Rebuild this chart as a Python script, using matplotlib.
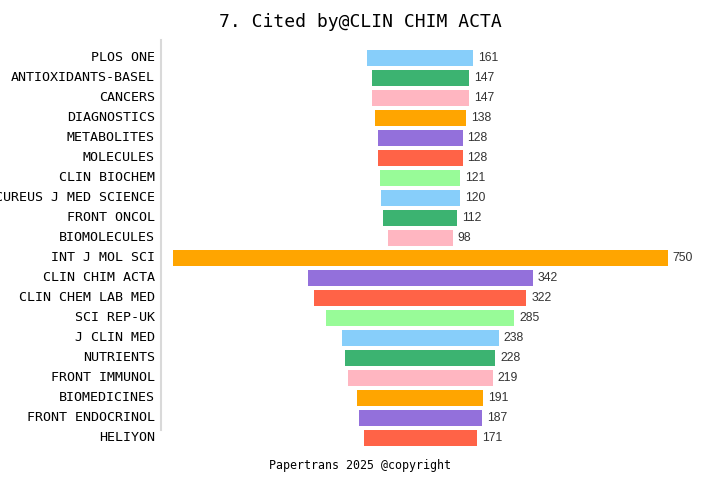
import matplotlib
matplotlib.use("Agg")
import matplotlib.pyplot as plt

journals = ["PLOS ONE", "ANTIOXIDANTS-BASEL", "CANCERS", "DIAGNOSTICS", "METABOLITES",
            "MOLECULES", "CLIN BIOCHEM", "CUREUS J MED SCIENCE", "FRONT ONCOL", "BIOMOLECULES",
            "INT J MOL SCI", "CLIN CHIM ACTA", "CLIN CHEM LAB MED", "SCI REP-UK", "J CLIN MED",
            "NUTRIENTS", "FRONT IMMUNOL", "BIOMEDICINES", "FRONT ENDOCRINOL", "HELIYON"]
counts = [161, 147, 147, 138, 128, 128, 121, 120, 112, 98,
          750, 342, 322, 285, 238, 228, 219, 191, 187, 171]
palette = ["#87CEFA", "#3CB371", "#FFB6C1", "#FFA500", "#9370DB", "#FF6347", "#98FB98"]

title = "7. Cited by@CLIN CHIM ACTA"
footer = "Papertrans 2025 @copyright"

mono = "DejaVu Sans Mono"

fig = plt.figure(figsize=(7.2, 4.8), dpi=100)
ax = fig.add_axes([161/720, 22/480, 518.6/720, 418/480])

ypos = list(range(len(journals)))
colors = [palette[i % len(palette)] for i in range(len(journals))]
lefts = [-v / 2 for v in counts]
ax.barh(ypos, counts, left=lefts, height=0.8, color=colors)

for y, v in zip(ypos, counts):
    ax.annotate(str(v), xy=(v / 2, y), xytext=(3.6, 0), textcoords="offset points",
                va="center", ha="left", fontsize=8.8, color="#333333",
                family="Liberation Sans")

ax.set_xlim(-393.2, 393.2)
ax.set_ylim(20.01, -0.89)
ax.set_yticks(ypos)
ax.set_yticklabels(journals, family=mono, fontsize=9.6, color="black", va="center")
ax.tick_params(axis="y", length=0, pad=4.5)
ax.set_xticks([])
for s in ["top", "right", "bottom"]:
    ax.spines[s].set_visible(False)
ax.spines["left"].set_color("#d9d9d9")
ax.spines["left"].set_linewidth(1.5)
ax.spines["left"].set_bounds(-0.89, 18.61)

fig.text(0.5, 1 - 22/480, title, ha="center", va="center", family=mono, fontsize=13, color="black")
fig.text(0.5, 1 - 466/480, footer, ha="center", va="center", family=mono, fontsize=8.4, color="black")

fig.savefig("out.png", dpi=100)
